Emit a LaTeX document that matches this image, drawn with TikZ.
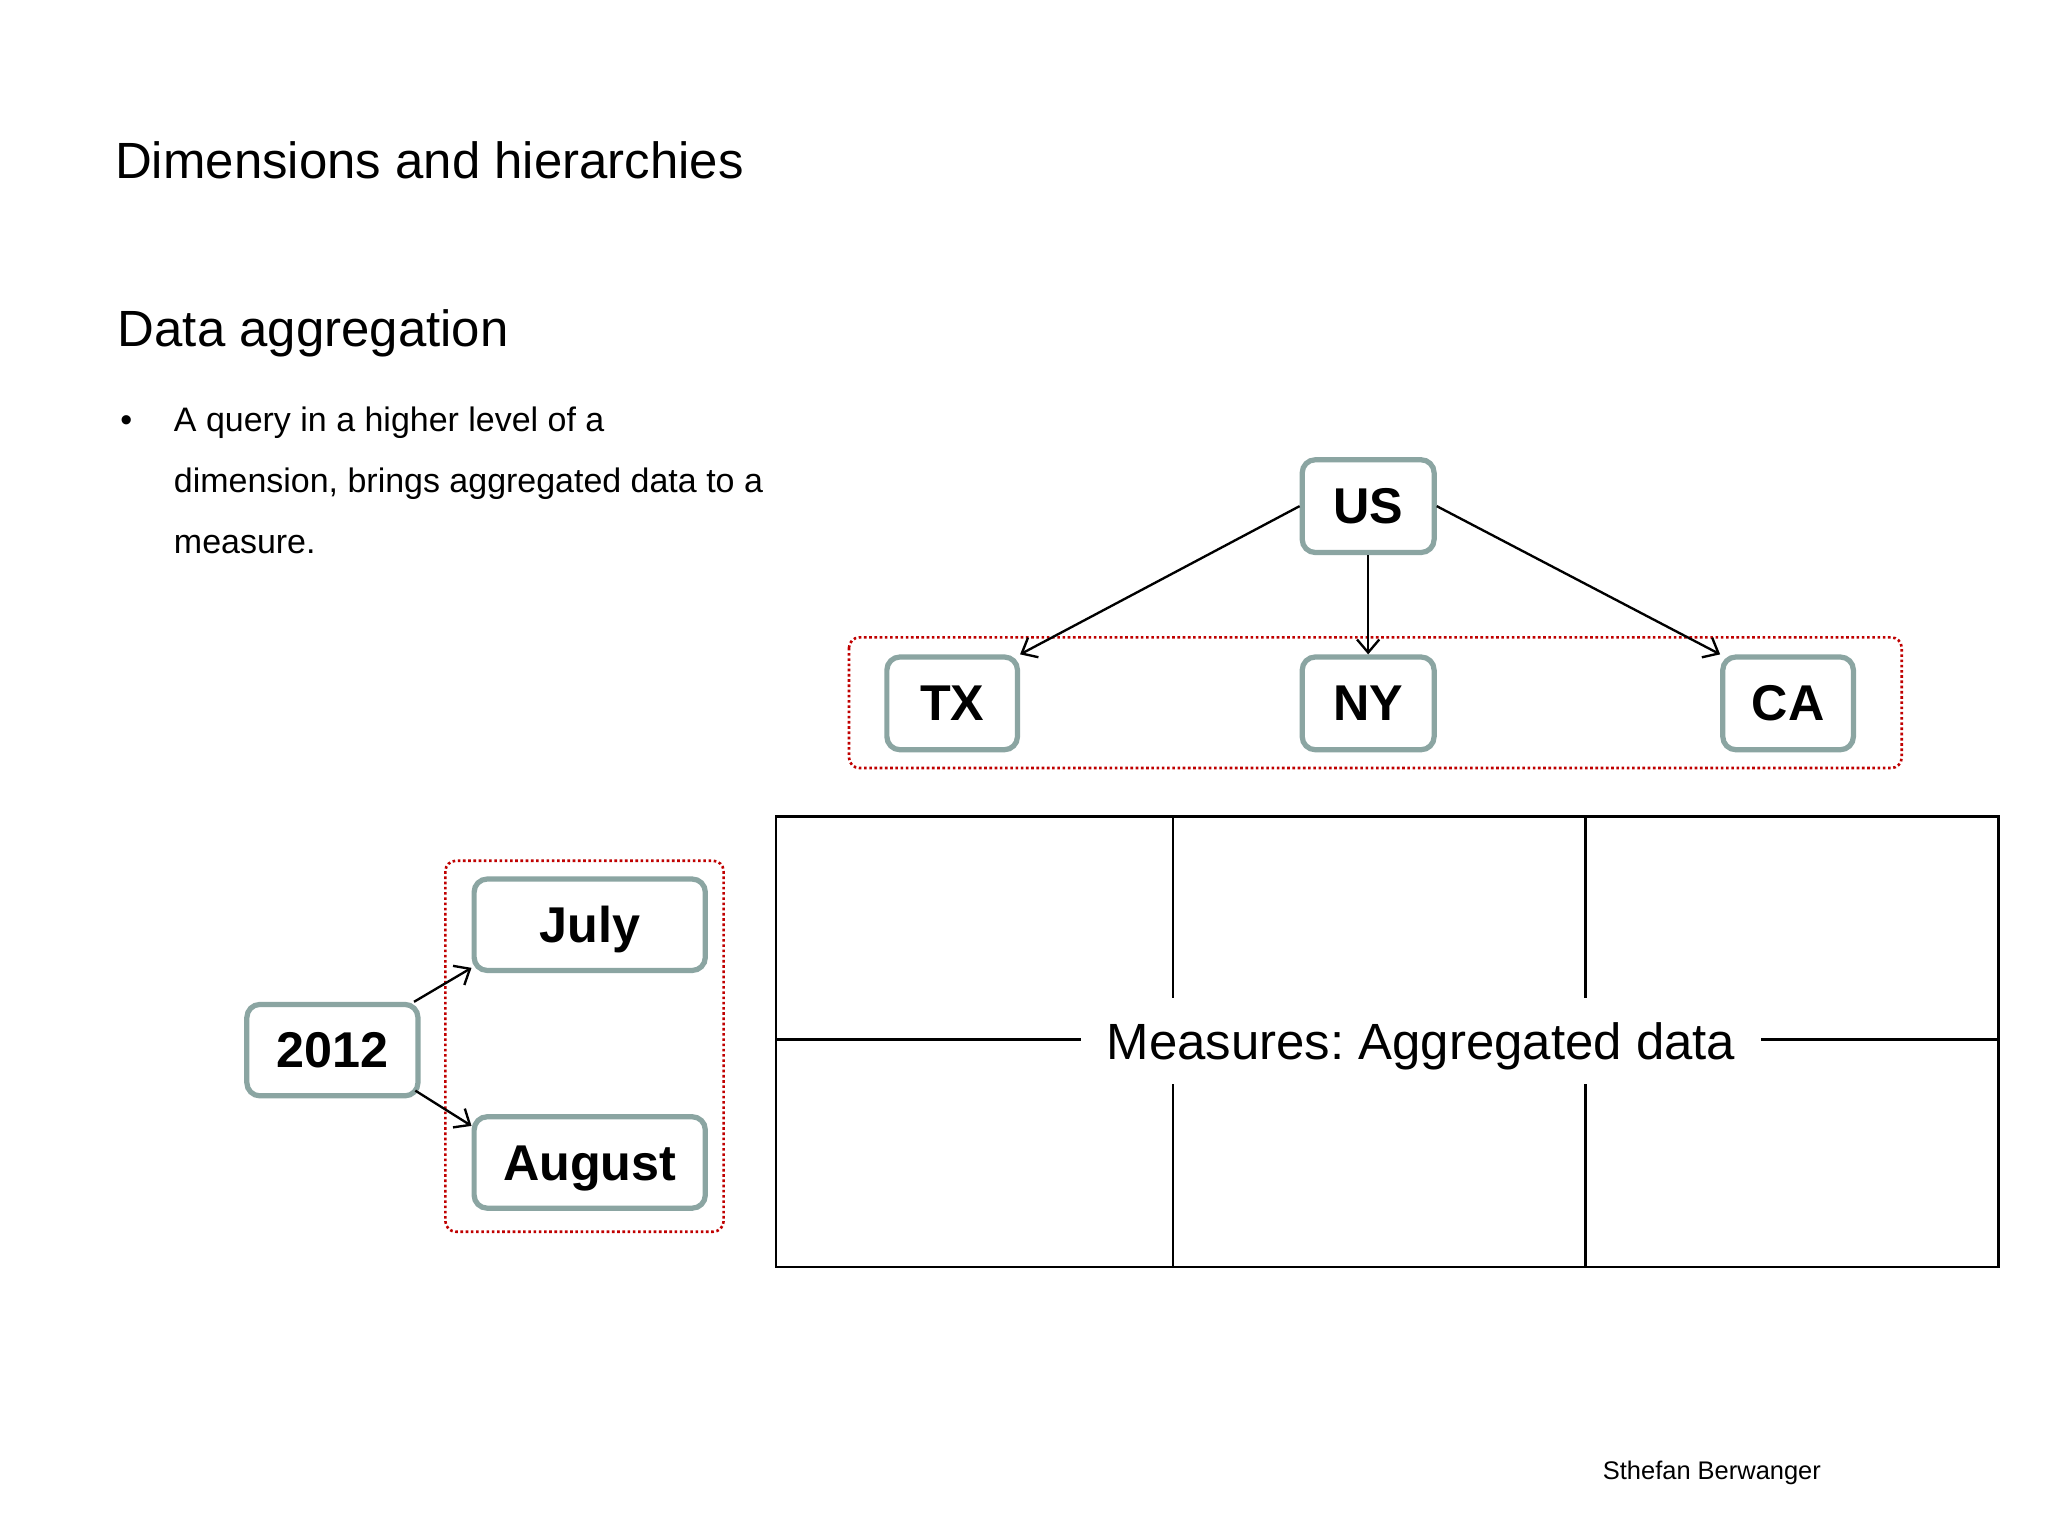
\documentclass[tikz,border=0pt]{standalone}
\usepackage{fontspec}
\setmainfont{Liberation Sans}
\usetikzlibrary{arrows.meta}
\definecolor{boxgray}{HTML}{8BA5A2}
\definecolor{dotred}{HTML}{C00000}
\frenchspacing
\begin{document}
\begin{tikzpicture}[x=1pt,y=-1pt,
  lvbox/.style={draw=boxgray, line width=4pt, rounded corners=10pt, fill=white,
    inner sep=0pt, minimum height=71pt, text height=27pt, text depth=0pt,
    font=\fontsize{38.5}{44}\selectfont\bfseries},
  arr/.style={draw=black, line width=1.8pt, -{Straight Barb[length=10pt,width=17pt,line width=1.8pt]}},
  grp/.style={draw=dotred, line width=2pt, dash pattern=on 2pt off 2pt, rounded corners=8pt},
  tline/.style={draw=black, line width=2pt},
  bigtxt/.style={anchor=base west, inner sep=0pt, font=\fontsize{39}{47}\selectfont},
  bodytxt/.style={anchor=base west, inner sep=0pt, font=\fontsize{26}{31}\selectfont}
]
\useasboundingbox[fill=white] (0,0) rectangle (1568,1176);

% titles
\node[bigtxt] (title) at (88,137) {Dimensions and hierarchies};
\node[bigtxt] (sub) at (90,265) {Data aggregation};
\node[bodytxt] (bul) at (92,330) {\textbullet};
\node[bodytxt] (l1) at (133,330) {A query in a higher level of a};
\node[bodytxt] (l2) at (133,377) {dimension, brings aggregated data to a};
\node[bodytxt] (l3) at (133,424) {measure.};

% geography hierarchy
\draw[grp] (650,488) rectangle (1456,588);
\node[lvbox, minimum width=101pt] (US) at (1047.5,387.5) {US};
\node[lvbox, minimum width=100pt] (TX) at (729,538.5) {TX};
\node[lvbox, minimum width=101pt] (NY) at (1047.5,538.5) {NY};
\node[lvbox, minimum width=100pt] (CA) at (1369,538.5) {CA};
\draw[arr] (US.west) -- (TX.north east);
\draw[arr] (US.south) -- (NY.north);
\draw[arr] (US.east) -- (CA.north west);

% time hierarchy
\draw[grp] (341,659) rectangle (554,943);
\node[lvbox, minimum width=131pt, minimum height=70pt] (Y) at (254.5,804) {2012};
\node[lvbox, minimum width=177pt, minimum height=70pt] (JUL) at (451.5,708) {July};
\node[lvbox, minimum width=177pt, minimum height=70pt] (AUG) at (451.5,890) {August};
\draw[arr] ([xshift=-5pt]Y.north east) -- ([yshift=4pt]JUL.south west);
\draw[arr] ([xshift=-4pt,yshift=6pt]Y.south east) -- ([yshift=-9pt]AUG.north west);

% measures table
\draw[tline] (594,625) rectangle (1530,970);
\draw[tline] (898,625) -- (898,970);
\draw[tline] (1214,625) -- (1214,970);
\draw[tline] (594,796) -- (1530,796);
\node[fill=white, inner sep=0pt, minimum width=520pt, minimum height=66pt,
  text height=28pt, text depth=0pt,
  font=\fontsize{39}{47}\selectfont] (M) at (1088,797) {Measures: Aggregated data};

% footer
\node[anchor=base west, inner sep=0pt, font=\fontsize{19.5}{23}\selectfont] (auth) at (1227,1133) {Sthefan Berwanger};
\end{tikzpicture}
\end{document}
